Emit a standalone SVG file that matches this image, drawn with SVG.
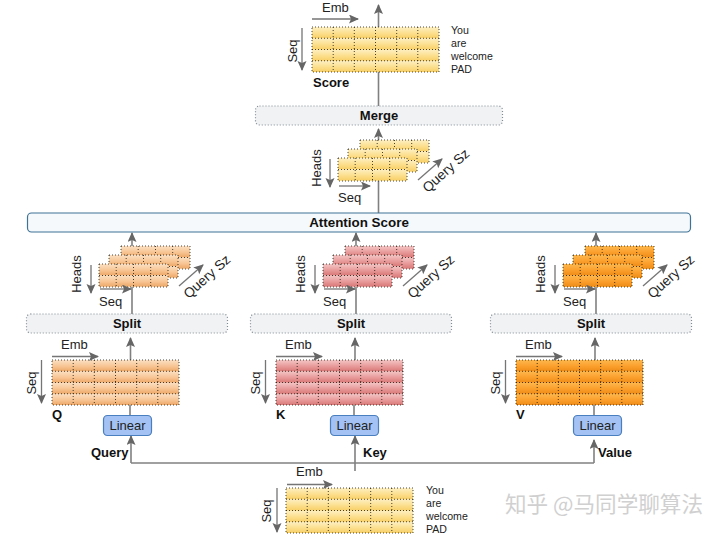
<svg xmlns="http://www.w3.org/2000/svg" width="720" height="535" viewBox="0 0 720 535">
<style>
text{font-family:"Liberation Sans",Arial,sans-serif;fill:#222;font-size:13px}
.b{font-weight:bold;font-size:13px;fill:#111}
.m{text-anchor:middle}
.s{font-size:10.600px}
.q{font-size:13.800px}
.c{fill:none;stroke:#808080;stroke-width:1.600}
.a{fill:none;stroke:#757575;stroke-width:1.300;marker-end:url(#h)}
.u{fill:none;stroke:#808080;stroke-width:1.600;marker-end:url(#h)}
.d{fill:#f1f2f3;stroke:#7f8a93;stroke-width:1.200;stroke-dasharray:1 2}
.l{fill:#a4c2f4;stroke:#4a7fbf;stroke-width:1.200}
.g{stroke:#1c160a;stroke-width:.8;stroke-dasharray:1 2;fill:none}
</style>
<defs>
<marker id="h" markerUnits="userSpaceOnUse" markerWidth="11" markerHeight="11" refX="9" refY="4.500" orient="auto"><path d="M0,0L10,4.500L0,9L2,4.500Z" fill="#666"/></marker>
<linearGradient id="gY" x1="0" y1="0" x2="0" y2="1"><stop offset="0" stop-color="#fdf0c4"/><stop offset=".55" stop-color="#fcdf8e"/><stop offset="1" stop-color="#f7cf66"/></linearGradient>
<linearGradient id="gO" x1="0" y1="0" x2="0" y2="1"><stop offset="0" stop-color="#fbe0c4"/><stop offset=".55" stop-color="#f8c594"/><stop offset="1" stop-color="#eda868"/></linearGradient>
<linearGradient id="gP" x1="0" y1="0" x2="0" y2="1"><stop offset="0" stop-color="#f4c6c6"/><stop offset=".55" stop-color="#e89a9a"/><stop offset="1" stop-color="#d97878"/></linearGradient>
<linearGradient id="gV" x1="0" y1="0" x2="0" y2="1"><stop offset="0" stop-color="#fdb84e"/><stop offset=".55" stop-color="#fb9f2c"/><stop offset="1" stop-color="#ef8c18"/></linearGradient>
<pattern id="pY" width="127" height="11.250" patternUnits="userSpaceOnUse"><rect width="127" height="11.250" fill="url(#gY)"/></pattern>
<pattern id="pO" width="127" height="11.250" patternUnits="userSpaceOnUse"><rect width="127" height="11.250" fill="url(#gO)"/></pattern>
<pattern id="pP" width="127" height="11.250" patternUnits="userSpaceOnUse"><rect width="127" height="11.250" fill="url(#gP)"/></pattern>
<pattern id="pV" width="127" height="11.250" patternUnits="userSpaceOnUse"><rect width="127" height="11.250" fill="url(#gV)"/></pattern>
<path id="big" class="g" d="M0,0H127V45H0ZM0,11.250H127M0,22.500H127M0,33.750H127M21.200,0V45M42.300,0V45M63.500,0V45M84.700,0V45M105.800,0V45"/>
<rect id="bigR" width="127" height="45"/>
<rect id="smR" width="69" height="23"/>
<path id="sm" class="g" d="M0,0H69V23H0ZM0,11.500H69M17.200,0V23M34.500,0V23M51.700,0V23"/>
</defs>

<g id="connectors">
<path class="u" d="M378.500,106V5"/>
<path class="u" d="M378.500,213V129"/>
<path class="u" d="M132,314V233"/>
<path class="u" d="M356,314V233"/>
<path class="u" d="M596,314V233"/>
<path class="u" d="M130.500,360V338"/>
<path class="u" d="M355,360V338"/>
<path class="u" d="M595,360V338"/>
<path class="c" d="M130,405V415M354,405V415M594,405V415"/>
<path class="c" d="M131,463H594"/>
<path class="u" d="M131,463V436"/>
<path class="u" d="M355,471V436"/>
<path class="u" d="M594,463V440"/>
</g>

<g id="score">
<use href="#bigR" x="312" y="27" fill="url(#pY)"/>
<use href="#big" x="312" y="27"/>
<text x="322" y="12">Emb</text>
<path class="a" d="M312,19H358"/>
<path class="a" d="M302,28V70"/>
<text class="m" transform="translate(297,51) rotate(-90)">Seq</text>
<text class="b" x="313" y="87">Score</text>
<text class="s" x="451" y="34">You</text>
<text class="s" x="451" y="47">are</text>
<text class="s" x="451" y="60">welcome</text>
<text class="s" x="451" y="73">PAD</text>
</g>

<g id="merge">
<rect class="d" x="255.500" y="106" width="247" height="19" rx="4"/>
<text class="b m" x="379" y="120">Merge</text>
</g>

<g id="merge-stack">
<use href="#smR" x="360" y="140" fill="url(#pY)"/><use href="#sm" x="360" y="140"/>
<use href="#smR" x="348" y="149" fill="url(#pY)"/><use href="#sm" x="348" y="149"/>
<use href="#smR" x="338" y="158" fill="url(#pY)"/><use href="#sm" x="338" y="158"/>
<path class="a" d="M330,159V187"/>
<path class="a" d="M339,186H370"/>
<text class="m" transform="translate(321,168) rotate(-90)">Heads</text>
<text x="338" y="202">Seq</text>
<path class="a" d="M418,180L442,159"/>
<text class="m q" transform="translate(449,174) rotate(-42)">Query Sz</text>
</g>

<g id="attention-score">
<rect x="27.500" y="213" width="663" height="19" rx="4" fill="#f5f9fc" stroke="#3f7396" stroke-width="1.200"/>
<text class="b m" x="359" y="226.500" style="font-size:13.400px">Attention Score</text>
</g>

<g id="q-stack">
<use href="#smR" x="121" y="246" fill="url(#pO)"/><use href="#sm" x="121" y="246"/>
<use href="#smR" x="109" y="255" fill="url(#pO)"/><use href="#sm" x="109" y="255"/>
<use href="#smR" x="99" y="264" fill="url(#pO)"/><use href="#sm" x="99" y="264"/>
<path class="a" d="M91,265V293"/>
<path class="a" d="M100,289H131"/>
<text class="m" transform="translate(81,274) rotate(-90)">Heads</text>
<text x="99" y="306">Seq</text>
<path class="a" d="M179,286L203,265"/>
<text class="m q" transform="translate(210,280) rotate(-42)">Query Sz</text>
</g>

<g id="k-stack">
<use href="#smR" x="345" y="246" fill="url(#pP)"/><use href="#sm" x="345" y="246"/>
<use href="#smR" x="333" y="255" fill="url(#pP)"/><use href="#sm" x="333" y="255"/>
<use href="#smR" x="323" y="264" fill="url(#pP)"/><use href="#sm" x="323" y="264"/>
<path class="a" d="M315,265V293"/>
<path class="a" d="M324,289H355"/>
<text class="m" transform="translate(305,274) rotate(-90)">Heads</text>
<text x="323" y="306">Seq</text>
<path class="a" d="M403,286L427,265"/>
<text class="m q" transform="translate(434,280) rotate(-42)">Query Sz</text>
</g>

<g id="v-stack">
<use href="#smR" x="585" y="246" fill="url(#pV)"/><use href="#sm" x="585" y="246"/>
<use href="#smR" x="573" y="255" fill="url(#pV)"/><use href="#sm" x="573" y="255"/>
<use href="#smR" x="563" y="264" fill="url(#pV)"/><use href="#sm" x="563" y="264"/>
<path class="a" d="M555,265V293"/>
<path class="a" d="M564,289H595"/>
<text class="m" transform="translate(545,274) rotate(-90)">Heads</text>
<text x="563" y="306">Seq</text>
<path class="a" d="M643,286L667,265"/>
<text class="m q" transform="translate(674,280) rotate(-42)">Query Sz</text>
</g>

<g id="split-q"><rect class="d" x="26.500" y="314" width="201" height="19" rx="4"/><text class="b m" x="127" y="328">Split</text></g>
<g id="split-k"><rect class="d" x="250.500" y="314" width="201" height="19" rx="4"/><text class="b m" x="351" y="328">Split</text></g>
<g id="split-v"><rect class="d" x="490.500" y="314" width="201" height="19" rx="4"/><text class="b m" x="591" y="328">Split</text></g>

<g id="q">
<use href="#bigR" x="52" y="360" fill="url(#pO)"/><use href="#big" x="52" y="360"/>
<text x="61" y="349">Emb</text>
<path class="a" d="M52,356.500H98"/>
<path class="a" d="M41.500,360V403"/>
<text class="m" transform="translate(36,383) rotate(-90)">Seq</text>
<text class="b" x="52" y="419">Q</text>
</g>
<g id="k">
<use href="#bigR" x="276" y="360" fill="url(#pP)"/><use href="#big" x="276" y="360"/>
<text x="285" y="349">Emb</text>
<path class="a" d="M276,356.500H322"/>
<path class="a" d="M265.500,360V403"/>
<text class="m" transform="translate(260,383) rotate(-90)">Seq</text>
<text class="b" x="276" y="419">K</text>
</g>
<g id="v">
<use href="#bigR" x="516" y="360" fill="url(#pV)"/><use href="#big" x="516" y="360"/>
<text x="525" y="349">Emb</text>
<path class="a" d="M516,356.500H562"/>
<path class="a" d="M505.500,360V403"/>
<text class="m" transform="translate(500,383) rotate(-90)">Seq</text>
<text class="b" x="516" y="419">V</text>
</g>

<g id="linear-q"><rect class="l" x="103.500" y="415.500" width="48" height="20" rx="4"/><text class="m" x="127.500" y="430">Linear</text></g>
<g id="linear-k"><rect class="l" x="330.500" y="415.500" width="48" height="20" rx="4"/><text class="m" x="354.500" y="430">Linear</text></g>
<g id="linear-v"><rect class="l" x="573.500" y="415.500" width="48" height="20" rx="4"/><text class="m" x="597.500" y="430">Linear</text></g>

<text id="query" class="b" x="91" y="457">Query</text>
<text id="key" class="b" x="363" y="457">Key</text>
<text id="value" class="b" x="598" y="457">Value</text>

<g id="input">
<use href="#bigR" x="286" y="488" fill="url(#pY)"/><use href="#big" x="286" y="488"/>
<text x="296" y="476">Emb</text>
<path class="a" d="M287,484.500H332"/>
<path class="a" d="M277,488V532"/>
<text class="m" transform="translate(271,511) rotate(-90)">Seq</text>
<text class="s" x="426" y="494">You</text>
<text class="s" x="426" y="507">are</text>
<text class="s" x="426" y="520">welcome</text>
<text class="s" x="426" y="533">PAD</text>
</g>

<text id="watermark" x="505" y="512" style="font-family:'Noto Sans CJK SC','Liberation Sans',sans-serif;font-size:21.600px;fill:#d0d0d0">知乎 @马同学聊算法</text>
</svg>
